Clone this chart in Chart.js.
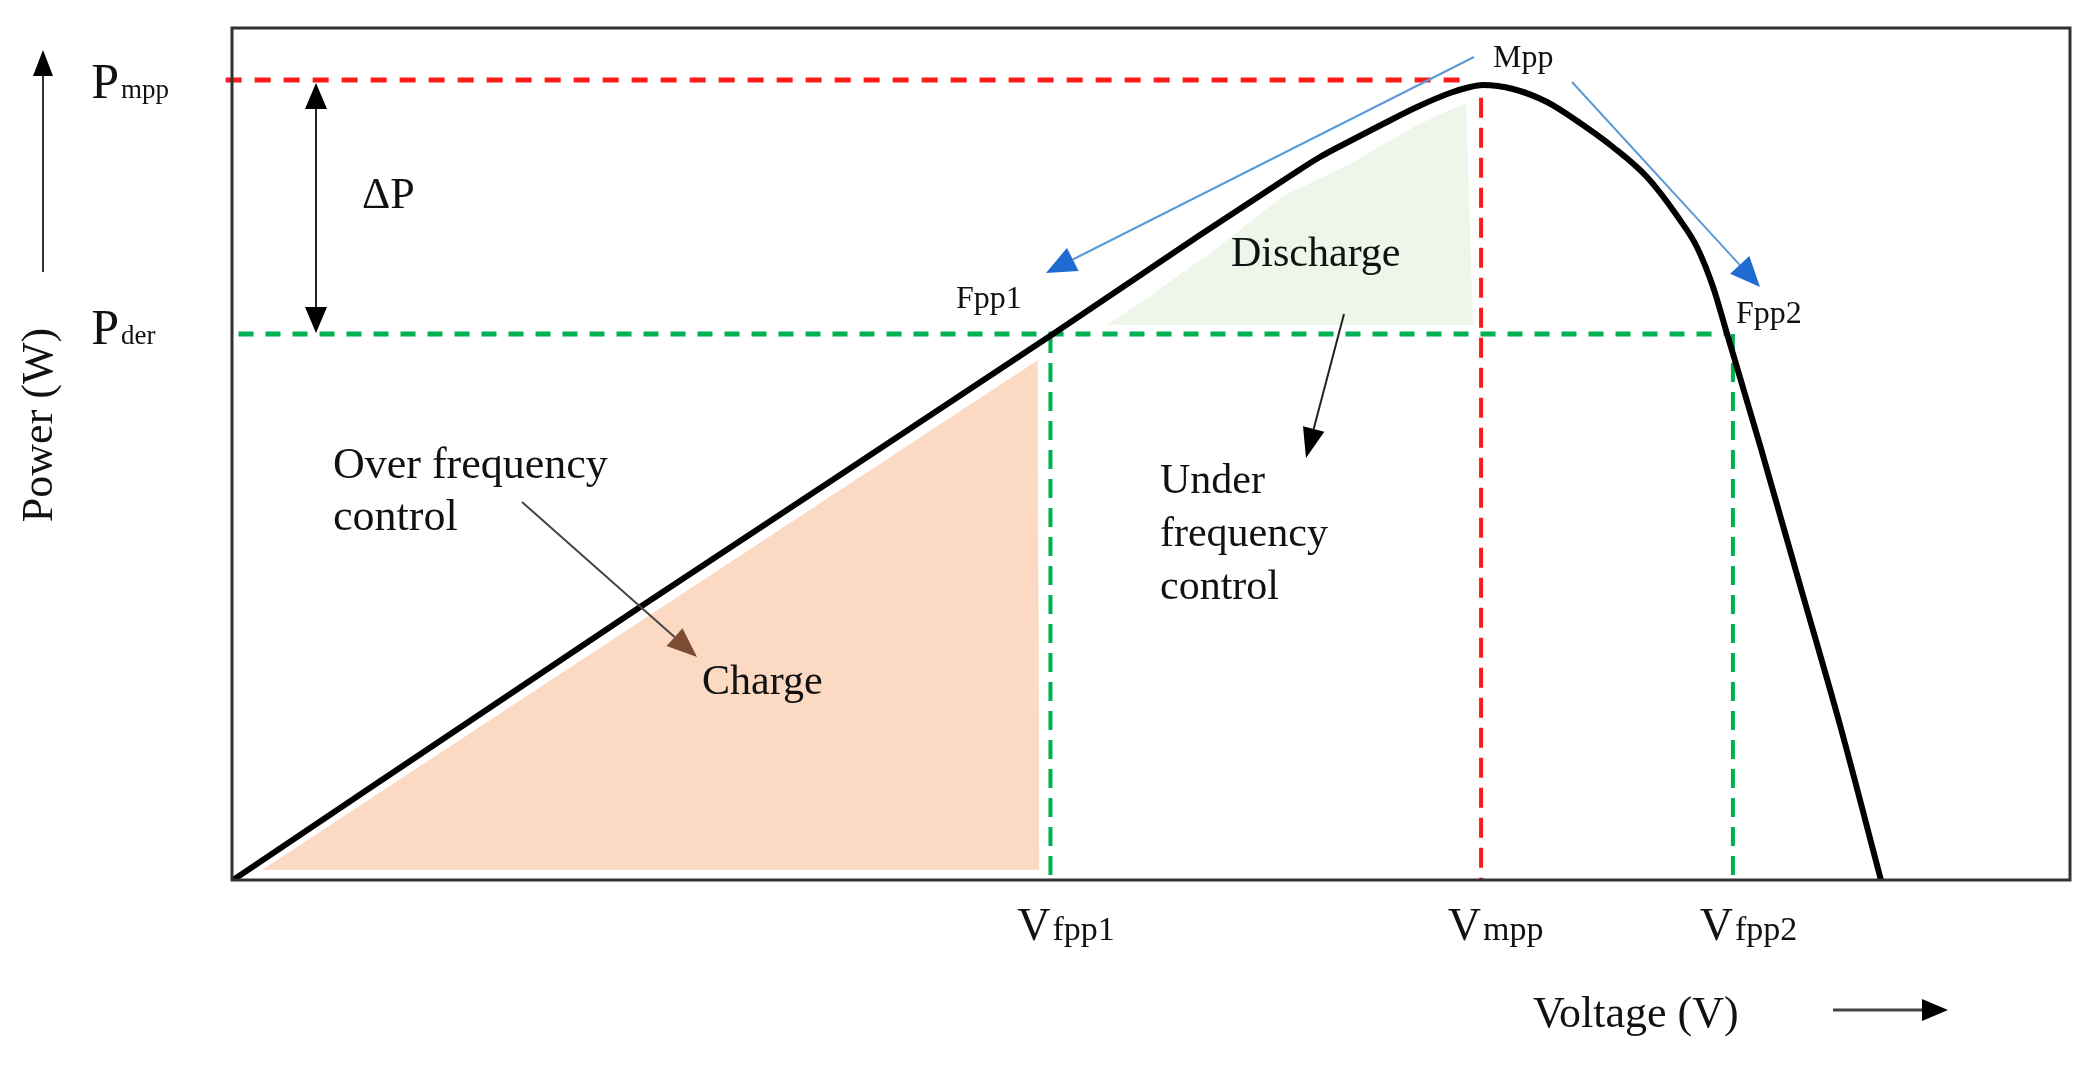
<!DOCTYPE html>
<html>
<head>
<meta charset="utf-8">
<script src="https://cdn.jsdelivr.net/npm/chart.js@4.4.1/dist/chart.umd.min.js"></script>
<style>
html, body { margin: 0; padding: 0; background: #fff; }
#wrap { width: 2092px; height: 1066px; position: relative; }
</style>
</head>
<body>
<div id="wrap"><canvas id="pvChart"></canvas></div>
<script>
// P-V curve (frame spans 0..100 on both axes)
const voltage = [0, 22.16, 44.64, 52.64, 57.54, 59.17, 60.81, 62.60, 64.45, 66.25, 67.34, 68.05,
                 69.68, 71.53, 73.33, 75.12, 76.97, 78.77, 79.69, 80.57, 81.27, 83.12, 85.30, 87.48, 89.71];
const power   = [0, 32.04, 64.08, 75.70, 82.63, 84.86, 86.74, 88.73, 90.73, 92.37, 93.08, 93.31,
                 92.84, 91.31, 88.85, 86.03, 82.51, 77.46, 74.30, 69.60, 64.55, 51.06, 34.62, 18.19, 0];

// shaded regions
const chargeV    = [1.6, 43.8, 43.9];
const chargeP    = [1.2, 61.0, 1.2];
const dischargeV = [47.58, 49.92, 53.57, 57.16, 60.81, 64.45, 66.25, 67.12, 67.50];
const dischargeP = [65.14, 68.54, 74.18, 80.28, 84.04, 88.62, 90.38, 91.20, 65.14];

// operating points / tick positions
const xTickValues = [44.5, 67.94, 81.65];
const xTickLabels = [['V', 'fpp1'], ['V', 'mpp'], ['V', 'fpp2']];
const yTickValues = [93.9, 64.08];
const yTickLabels = [['P', 'mpp'], ['P', 'der']];

const [V_FPP1, V_MPP, V_FPP2] = xTickValues;
const [P_MPP, P_DER] = yTickValues;

function pts(xs, ys) {
    return xs.map((x, i) => ({ x: x, y: ys[i] }));
}

const SERIF = '"Liberation Serif", "Times New Roman", serif';

// arrow with a filled triangular head
function arrow(ctx, x1, y1, x2, y2, o) {
    const len = o.head || 26, half = (o.width || 20) / 2;
    const a = Math.atan2(y2 - y1, x2 - x1);
    const bx = x2 - len * Math.cos(a), by = y2 - len * Math.sin(a);
    ctx.save();
    ctx.strokeStyle = o.line || '#222';
    ctx.lineWidth = o.lw || 2;
    ctx.beginPath();
    ctx.moveTo(x1, y1);
    ctx.lineTo(bx, by);
    ctx.stroke();
    ctx.fillStyle = o.fill || '#000';
    ctx.beginPath();
    ctx.moveTo(x2, y2);
    ctx.lineTo(bx + half * Math.sin(a), by - half * Math.cos(a));
    ctx.lineTo(bx - half * Math.sin(a), by + half * Math.cos(a));
    ctx.closePath();
    ctx.fill();
    ctx.restore();
}

function text(ctx, s, x, y, size, align) {
    ctx.font = size + 'px ' + SERIF;
    ctx.textAlign = align || 'left';
    ctx.textBaseline = 'alphabetic';
    ctx.fillText(s, x, y);
}

// Frame, custom ticks, axis titles and annotations
const annotations = {
    id: 'annotations',
    afterDatasetsDraw(chart) {
        const ctx = chart.ctx;
        const { left, top, right, bottom } = chart.chartArea;
        const xs = chart.scales.x, ys = chart.scales.y;
        ctx.save();
        ctx.fillStyle = '#111';

        // frame
        ctx.strokeStyle = '#333';
        ctx.lineWidth = 3;
        ctx.strokeRect(left - 1, top, right - left + 1, bottom - top);

        // x tick labels (V + subscript)
        xTickValues.forEach((v, i) => {
            const px = xs.getPixelForValue(v);
            text(ctx, xTickLabels[i][0], px, 940, 46, 'right');
            text(ctx, xTickLabels[i][1], px + 2, 940, 34, 'left');
        });
        // y tick labels (P + subscript)
        yTickValues.forEach((v, i) => {
            const py = ys.getPixelForValue(v);
            const dy = i === 0 ? 18 : 10;
            text(ctx, yTickLabels[i][0], 119, py + dy, 50, 'right');
            text(ctx, yTickLabels[i][1], 121, py + dy, 27, 'left');
        });

        // axis titles
        text(ctx, 'Voltage (V)', 1533, 1027, 44, 'left');
        arrow(ctx, 1833, 1010, 1948, 1010, { line: '#444', lw: 3, head: 26, width: 22 });
        ctx.save();
        ctx.translate(52, 425);
        ctx.rotate(-Math.PI / 2);
        text(ctx, 'Power (W)', 0, 0, 44, 'center');
        ctx.restore();
        arrow(ctx, 43, 272, 43, 50, { line: '#333', lw: 2, head: 26, width: 20 });

        // delta P double arrow
        const yM = ys.getPixelForValue(P_MPP), yD = ys.getPixelForValue(P_DER);
        arrow(ctx, 316, (yM + yD) / 2, 316, yM + 3, { lw: 2, head: 26, width: 22 });
        arrow(ctx, 316, (yM + yD) / 2, 316, yD - 1, { lw: 2, head: 26, width: 22 });
        text(ctx, '\u0394P', 362, 208, 44);

        // region labels
        text(ctx, 'Over frequency', 333, 478, 44);
        text(ctx, 'control', 333, 530, 44);
        text(ctx, 'Charge', 702, 694, 42);
        text(ctx, 'Discharge', 1231, 266, 42);
        text(ctx, 'Under', 1160, 493, 42);
        text(ctx, 'frequency', 1160, 546, 42);
        text(ctx, 'control', 1160, 599, 42);

        // point labels
        text(ctx, 'Fpp1', 956, 308, 32);
        text(ctx, 'Fpp2', 1736, 323, 32);
        text(ctx, 'Mpp', 1493, 67, 32);

        // pointer arrows
        arrow(ctx, 1474, 57, 1046, 273, { line: '#5b9bd5', lw: 2, fill: '#1f6bd1', head: 30, width: 26 });
        arrow(ctx, 1572, 82, 1760, 287, { line: '#5b9bd5', lw: 2, fill: '#1f6bd1', head: 30, width: 26 });
        arrow(ctx, 1344, 314, 1306, 458, { line: '#222', lw: 2, fill: '#000', head: 30, width: 22 });
        arrow(ctx, 522, 502, 697, 657, { line: '#444', lw: 2, fill: '#7b4b32', head: 30, width: 24 });

        ctx.restore();
    }
};

const dashed = (color, data, dash, width) => ({
    data: data,
    borderColor: color,
    borderWidth: width,
    borderDash: dash,
    pointRadius: 0,
    fill: false,
    clip: false,
    order: 1
});

new Chart(document.getElementById('pvChart'), {
    type: 'line',
    data: {
        datasets: [
            {
                label: 'P-V curve',
                data: pts(voltage, power),
                borderColor: '#000',
                borderWidth: 6,
                pointRadius: 0,
                cubicInterpolationMode: 'monotone',
                fill: false,
                order: 0
            },
            dashed('#ff1a1a', [{ x: -0.4, y: P_MPP }, { x: 67.1, y: P_MPP }], [16, 13], 5),
            dashed('#ff1a1a', [{ x: V_MPP, y: 91.8 }, { x: V_MPP, y: 0 }], [20, 10], 4),
            dashed('#00b050', [{ x: 0.3, y: P_DER }, { x: 81.2, y: P_DER }], [15, 12], 5),
            dashed('#00b050', [{ x: V_FPP1, y: P_DER }, { x: V_FPP1, y: 0 }], [19, 10], 4),
            dashed('#00b050', [{ x: V_FPP2, y: P_DER }, { x: V_FPP2, y: 0 }], [19, 10], 4),
            {
                label: 'Charge',
                data: pts(chargeV, chargeP),
                borderWidth: 0,
                pointRadius: 0,
                backgroundColor: '#fcd9c2',
                fill: { value: chargeP[0] },
                order: 2
            },
            {
                label: 'Discharge',
                data: pts(dischargeV, dischargeP),
                borderWidth: 0,
                pointRadius: 0,
                backgroundColor: '#eef5e9',
                fill: { value: dischargeP[0] },
                order: 2
            }
        ]
    },
    options: {
        responsive: true,
        maintainAspectRatio: false,
        animation: false,
        devicePixelRatio: 1,
        layout: { padding: { left: 233, top: 28, right: 22, bottom: 186 } },
        plugins: {
            legend: { display: false },
            tooltip: { enabled: false }
        },
        scales: {
            x: { type: 'linear', min: 0, max: 100, display: false },
            y: { type: 'linear', min: 0, max: 100, display: false }
        }
    },
    plugins: [annotations]
});
</script>
</body>
</html>
